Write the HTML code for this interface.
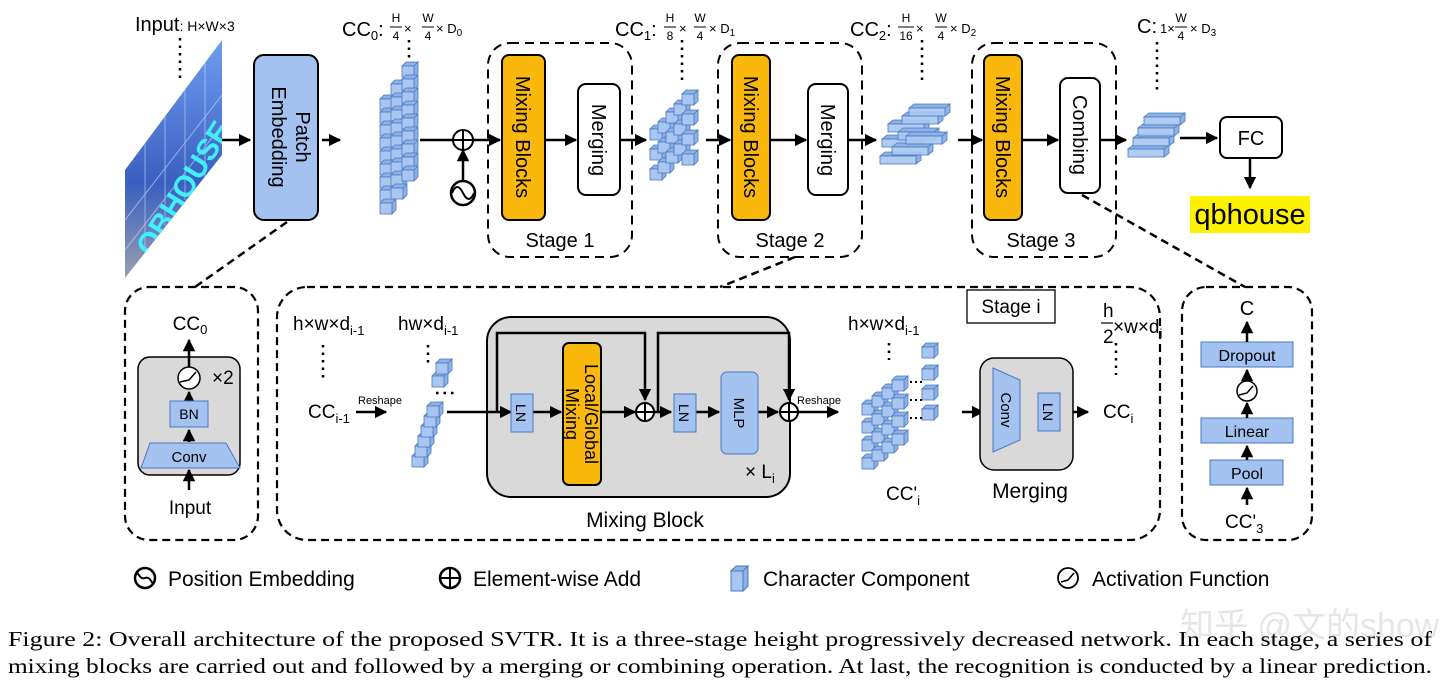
<!DOCTYPE html>
<html><head><meta charset="utf-8"><style>
html,body{margin:0;padding:0;background:#fff}
svg{display:block}
text{font-family:"Liberation Sans",sans-serif}
.s{font-family:"Liberation Serif",serif}
</style></head><body>
<svg width="1440" height="683" viewBox="0 0 1440 683" xmlns="http://www.w3.org/2000/svg">
<defs>
<marker id="a" viewBox="0 0 10 10" refX="9" refY="5" markerWidth="5" markerHeight="5" orient="auto"><path d="M0,0L10,5L0,10z" fill="#000"/></marker>
<g id="c"><path d="M0,4 l4,-4 h12 l-4,4z M12,4 l4,-4 v11 l-4,4z" fill="#8fb2e6" stroke="#4a78c2" stroke-width="0.8"/><rect x="0" y="4" width="12" height="11" fill="#a9c6f0" stroke="#4a78c2" stroke-width="0.8"/></g>
<g id="f"><path d="M0,4 l5,-4 h36 l-5,4z M36,4 l5,-4 v8 l-5,4z" fill="#8fb2e6" stroke="#4a78c2" stroke-width="0.8"/><rect x="0" y="4" width="36" height="8" fill="#a9c6f0" fill-opacity="0.9" stroke="#4a78c2" stroke-width="0.8"/></g>
<linearGradient id="g" x1="0" y1="0" x2="0" y2="1"><stop offset="0" stop-color="#6f9cf0"/><stop offset="0.6" stop-color="#3a5fc0"/><stop offset="1" stop-color="#9aa0b0"/></linearGradient>
<clipPath id="cp"><polygon points="125,170 222,40 222,155 125,278"/></clipPath>
</defs>
<g stroke="#000" stroke-width="2.5" fill="none">
<line x1="222" y1="140" x2="250" y2="140" marker-end="url(#a)"/>
<line x1="322" y1="140" x2="340" y2="140" marker-end="url(#a)"/>
<line x1="420" y1="140" x2="453" y2="140"/>
<line x1="473" y1="140" x2="500" y2="140" marker-end="url(#a)"/>
<line x1="463" y1="181" x2="463" y2="150" marker-end="url(#a)"/>
<line x1="545" y1="140" x2="576" y2="140" marker-end="url(#a)"/>
<line x1="620" y1="140" x2="646" y2="140" marker-end="url(#a)"/>
<line x1="706" y1="140" x2="730" y2="140" marker-end="url(#a)"/>
<line x1="770" y1="140" x2="806" y2="140" marker-end="url(#a)"/>
<line x1="848" y1="140" x2="876" y2="140" marker-end="url(#a)"/>
<line x1="958" y1="140" x2="982" y2="140" marker-end="url(#a)"/>
<line x1="1022" y1="140" x2="1058" y2="140" marker-end="url(#a)"/>
<line x1="1100" y1="140" x2="1126" y2="140" marker-end="url(#a)"/>
<line x1="1180" y1="138" x2="1217" y2="138" marker-end="url(#a)"/>
<line x1="1250" y1="158" x2="1250" y2="188" marker-end="url(#a)"/>
</g>
<polygon points="125,170 222,40 222,155 125,278" fill="url(#g)"/>
<g stroke="#cfe0ff" stroke-width="0.8" opacity="0.7"><line x1="145" y1="143" x2="145" y2="252"/><line x1="165" y1="116" x2="165" y2="226"/><line x1="185" y1="90" x2="185" y2="200"/><line x1="205" y1="63" x2="205" y2="177"/><line x1="125" y1="220" x2="222" y2="95"/><line x1="125" y1="250" x2="222" y2="125"/></g>
<g clip-path="url(#cp)"><text x="0" y="0" transform="translate(152,258) rotate(-58)" font-size="30" font-weight="bold" fill="#3ff0ff">QBHOUSE</text></g>
<g stroke="#000" stroke-width="2.5" stroke-dasharray="2.5,5" fill="none">
<line x1="180" y1="38" x2="180" y2="82"/><line x1="409" y1="40" x2="409" y2="70"/><line x1="682" y1="40" x2="682" y2="80"/><line x1="922" y1="40" x2="922" y2="80"/><line x1="1157" y1="42" x2="1157" y2="90"/>
<line x1="323" y1="345" x2="323" y2="380"/><line x1="428" y1="345" x2="428" y2="365"/><line x1="436" y1="393" x2="455" y2="393"/><line x1="889" y1="343" x2="889" y2="360"/><line x1="1116" y1="343" x2="1116" y2="375"/>
</g>
<text x="135" y="31" font-size="20">Input<tspan font-size="14">: H×W×3</tspan></text>
<text x="342" y="36" font-size="20">CC<tspan font-size="13" dy="4">0</tspan><tspan dy="-4">:</tspan></text>
<g font-size="12" text-anchor="middle"><text x="396" y="22">H</text><text x="396" y="40">4</text><text x="428" y="22">W</text><text x="428" y="40">4</text>
<text x="670" y="22">H</text><text x="670" y="40">8</text><text x="700" y="22">W</text><text x="700" y="40">4</text>
<text x="906" y="22">H</text><text x="906" y="40">16</text><text x="941" y="22">W</text><text x="941" y="40">4</text>
<text x="1181" y="22">W</text><text x="1181" y="40">4</text></g>
<g stroke="#000" stroke-width="1"><line x1="390" y1="27" x2="402" y2="27"/><line x1="422" y1="27" x2="434" y2="27"/><line x1="664" y1="27" x2="676" y2="27"/><line x1="694" y1="27" x2="706" y2="27"/><line x1="898" y1="27" x2="914" y2="27"/><line x1="935" y1="27" x2="947" y2="27"/><line x1="1175" y1="27" x2="1187" y2="27"/></g>
<g font-size="13"><text x="404" y="33">×</text><text x="436" y="33">× D<tspan font-size="10" dy="3">0</tspan></text>
<text x="679" y="33">×</text><text x="709" y="33">× D<tspan font-size="10" dy="3">1</tspan></text>
<text x="916" y="33">×</text><text x="950" y="33">× D<tspan font-size="10" dy="3">2</tspan></text>
<text x="1160" y="33">1×</text><text x="1190" y="33">× D<tspan font-size="10" dy="3">3</tspan></text></g>
<text x="615" y="36" font-size="20">CC<tspan font-size="13" dy="4">1</tspan><tspan dy="-4">:</tspan></text>
<text x="850" y="36" font-size="20">CC<tspan font-size="13" dy="4">2</tspan><tspan dy="-4">:</tspan></text>
<text x="1137" y="33" font-size="20">C:</text>
<rect x="254" y="55" width="64" height="165" rx="10" fill="#a4c2f0" stroke="#000" stroke-width="2"/>
<g font-size="20" text-anchor="middle"><text transform="translate(296,137) rotate(90)">Patch</text><text transform="translate(272,137) rotate(90)">Embedding</text></g>
<g><use href="#c" x="380" y="95"/><use href="#c" x="380" y="108"/><use href="#c" x="380" y="121"/><use href="#c" x="380" y="134"/><use href="#c" x="380" y="147"/><use href="#c" x="380" y="160"/><use href="#c" x="380" y="173"/><use href="#c" x="380" y="186"/><use href="#c" x="380" y="199"/>
<use href="#c" x="391" y="80"/><use href="#c" x="391" y="93"/><use href="#c" x="391" y="106"/><use href="#c" x="391" y="119"/><use href="#c" x="391" y="132"/><use href="#c" x="391" y="145"/><use href="#c" x="391" y="158"/><use href="#c" x="391" y="171"/><use href="#c" x="391" y="184"/>
<use href="#c" x="402" y="62"/><use href="#c" x="402" y="75"/><use href="#c" x="402" y="88"/><use href="#c" x="402" y="101"/><use href="#c" x="402" y="114"/><use href="#c" x="402" y="127"/><use href="#c" x="402" y="140"/><use href="#c" x="402" y="153"/><use href="#c" x="402" y="166"/></g>
<circle cx="463" cy="140" r="10" fill="#fff" stroke="#000" stroke-width="2"/><path d="M453,140h20M463,130v20" stroke="#000" stroke-width="2"/>
<circle cx="463" cy="193" r="12" fill="#fff" stroke="#000" stroke-width="2.5"/><path d="M452,193 q5,-12 11,0 q6,12 11,0" fill="none" stroke="#000" stroke-width="2"/>
<g fill="none" stroke="#000" stroke-width="2" stroke-dasharray="9,6"><rect x="488" y="43" width="144" height="214" rx="22"/><rect x="718" y="43" width="144" height="214" rx="22"/><rect x="972" y="43" width="144" height="214" rx="22"/></g>
<g fill="#fbb80c" stroke="#000" stroke-width="2"><rect x="502" y="55" width="43" height="165" rx="7"/><rect x="732" y="55" width="38" height="165" rx="7"/><rect x="984" y="55" width="38" height="165" rx="7"/></g>
<g fill="#fff" stroke="#000" stroke-width="2"><rect x="578" y="84" width="42" height="111" rx="8"/><rect x="808" y="84" width="40" height="111" rx="8"/><rect x="1060" y="78" width="40" height="115" rx="8"/><rect x="1220" y="117" width="62" height="41" rx="7"/></g>
<g font-size="20" text-anchor="middle">
<text transform="translate(516,137) rotate(90)">Mixing  Blocks</text><text transform="translate(744,137) rotate(90)">Mixing  Blocks</text><text transform="translate(996,137) rotate(90)">Mixing  Blocks</text>
<text transform="translate(592,140) rotate(90)">Merging</text><text transform="translate(821,140) rotate(90)">Merging</text><text transform="translate(1073,135) rotate(90)">Combing</text>
<text x="560" y="247">Stage 1</text><text x="790" y="247">Stage 2</text><text x="1041" y="247">Stage 3</text><text x="1251" y="145">FC</text></g>
<g><use href="#c" x="650" y="125"/><use href="#c" x="650" y="145"/><use href="#c" x="650" y="165"/><use href="#c" x="658" y="118"/><use href="#c" x="658" y="138"/><use href="#c" x="658" y="158"/>
<use href="#c" x="666" y="108"/><use href="#c" x="666" y="128"/><use href="#c" x="666" y="148"/><use href="#c" x="674" y="100"/><use href="#c" x="674" y="120"/><use href="#c" x="674" y="140"/>
<use href="#c" x="682" y="90"/><use href="#c" x="682" y="110"/><use href="#c" x="682" y="130"/><use href="#c" x="682" y="150"/></g>
<g><use href="#f" x="880" y="152"/><use href="#f" x="882" y="135"/><use href="#f" x="888" y="120"/><use href="#f" x="892" y="143"/><use href="#f" x="898" y="128"/><use href="#f" x="902" y="112"/><use href="#f" x="906" y="132"/><use href="#f" x="909" y="104"/></g>
<g><use href="#f" x="1128" y="145"/><use href="#f" x="1133" y="134"/><use href="#f" x="1138" y="124"/><use href="#f" x="1144" y="113"/></g>
<rect x="1190" y="196" width="120" height="37" fill="#fff200"/>
<text x="1250" y="224" font-size="29" text-anchor="middle">qbhouse</text>
<g stroke="#000" stroke-width="2.5" stroke-dasharray="8,5" fill="none"><line x1="287" y1="222" x2="195" y2="287"/><line x1="795" y1="257" x2="720" y2="287"/><line x1="1082" y1="195" x2="1245" y2="287"/></g>
<g fill="none" stroke="#000" stroke-width="2.2" stroke-dasharray="8,5"><rect x="125" y="287" width="133" height="253" rx="24"/><rect x="277" y="287" width="883" height="253" rx="30"/><rect x="1182" y="287" width="130" height="253" rx="24"/></g>
<rect x="138" y="357" width="102" height="118" rx="12" fill="#d9d9d9" stroke="#000" stroke-width="1.5"/>
<text x="190" y="330" font-size="19" text-anchor="middle">CC<tspan font-size="13" dy="4">0</tspan></text>
<text x="190" y="514" font-size="19" text-anchor="middle">Input</text>
<text x="212" y="384" font-size="19">×2</text>
<g stroke="#000" stroke-width="2.5" fill="none"><line x1="189" y1="490" x2="189" y2="470" marker-end="url(#a)"/><line x1="189" y1="442" x2="189" y2="430" marker-end="url(#a)"/><line x1="189" y1="400" x2="189" y2="392" marker-end="url(#a)"/><line x1="189" y1="367" x2="189" y2="340" marker-end="url(#a)"/></g>
<polygon points="150,443 226,443 240,468 141,468" fill="#a4c2f0" stroke="#4a78c2"/>
<text x="189" y="462" font-size="15" text-anchor="middle">Conv</text>
<rect x="170" y="401" width="38" height="26" fill="#a4c2f0" stroke="#4a78c2"/>
<text x="189" y="419" font-size="14" text-anchor="middle">BN</text>
<circle cx="189" cy="378" r="11" fill="#fff" stroke="#000" stroke-width="1.5"/><path d="M180,382 l9,-2 l7,-8" stroke="#000" stroke-width="1.5" fill="none"/>
<g font-size="19"><text x="293" y="330">h×w×d<tspan font-size="13" dy="5">i-1</tspan></text><text x="398" y="330">hw×d<tspan font-size="13" dy="5">i-1</tspan></text><text x="848" y="330">h×w×d<tspan font-size="13" dy="5">i-1</tspan></text>
<text x="308" y="418">CC<tspan font-size="13" dy="5">i-1</tspan></text><text x="1103" y="418">CC<tspan font-size="13" dy="5">i</tspan></text><text x="886" y="500">CC'<tspan font-size="13" dy="5">i</tspan></text>
<text x="1103" y="317">h</text><text x="1103" y="343">2</text><text x="1113" y="333">×w×d<tspan font-size="13" dy="5">i</tspan></text></g>
<line x1="1101" y1="323" x2="1113" y2="323" stroke="#000" stroke-width="1.2"/>
<text x="358" y="404" font-size="11">Reshape</text><text x="797" y="404" font-size="11">Reshape</text>
<rect x="967" y="290" width="88" height="33" fill="#fff" stroke="#000" stroke-width="1.3"/>
<text x="1011" y="313" font-size="19" text-anchor="middle">Stage i</text>
<rect x="487" y="317" width="303" height="180" rx="24" fill="#d9d9d9" stroke="#000" stroke-width="2"/>
<text x="645" y="527" font-size="21" text-anchor="middle">Mixing Block</text>
<text x="745" y="478" font-size="19">× L<tspan font-size="13" dy="5">i</tspan></text>
<g stroke="#000" stroke-width="2.5" fill="none">
<line x1="356" y1="412" x2="386" y2="412" marker-end="url(#a)"/>
<line x1="447" y1="412" x2="511" y2="412" marker-end="url(#a)"/>
<line x1="533" y1="412" x2="561" y2="412" marker-end="url(#a)"/>
<line x1="600" y1="412" x2="635" y2="412" marker-end="url(#a)"/>
<line x1="653" y1="412" x2="671" y2="412" marker-end="url(#a)"/>
<line x1="696" y1="412" x2="719" y2="412" marker-end="url(#a)"/>
<line x1="758" y1="412" x2="778" y2="412" marker-end="url(#a)"/>
<line x1="797" y1="412" x2="838" y2="412" marker-end="url(#a)"/>
<polyline points="497,412 497,333 645,333 645,400" marker-end="url(#a)"/>
<polyline points="658,412 658,333 789,333 789,400" marker-end="url(#a)"/>
<line x1="962" y1="412" x2="983" y2="412" marker-end="url(#a)"/>
<line x1="1020" y1="412" x2="1038" y2="412" marker-end="url(#a)"/>
<line x1="1060" y1="412" x2="1088" y2="412" marker-end="url(#a)"/>
</g>
<circle cx="645" cy="412" r="9" fill="#fff" stroke="#000" stroke-width="2"/><path d="M636,412h18M645,403v18" stroke="#000" stroke-width="2"/>
<circle cx="789" cy="412" r="9" fill="#fff" stroke="#000" stroke-width="2"/><path d="M780,412h18M789,403v18" stroke="#000" stroke-width="2"/>
<rect x="511" y="394" width="22" height="38" fill="#a4c2f0" stroke="#4a78c2"/><text transform="translate(516,413) rotate(90)" font-size="14" text-anchor="middle">LN</text>
<rect x="674" y="394" width="22" height="38" fill="#a4c2f0" stroke="#4a78c2"/><text transform="translate(679,413) rotate(90)" font-size="14" text-anchor="middle">LN</text>
<rect x="563" y="343" width="38" height="142" rx="6" fill="#fbb80c" stroke="#000" stroke-width="2"/>
<text transform="translate(585,414) rotate(90)" font-size="18" text-anchor="middle">Local/Global</text><text transform="translate(566,414) rotate(90)" font-size="18" text-anchor="middle">Mixing</text>
<rect x="721" y="372" width="37" height="82" rx="6" fill="#a4c2f0" stroke="#4a78c2"/><text transform="translate(734,413) rotate(90)" font-size="15" text-anchor="middle">MLP</text>
<g><use href="#c" x="412" y="452"/><use href="#c" x="415" y="442"/><use href="#c" x="418" y="432"/><use href="#c" x="421" y="422"/><use href="#c" x="424" y="412"/><use href="#c" x="427" y="402"/><use href="#c" x="432" y="372"/><use href="#c" x="436" y="359"/></g>
<g><use href="#c" x="862" y="400"/><use href="#c" x="862" y="418"/><use href="#c" x="862" y="436"/><use href="#c" x="862" y="454"/><use href="#c" x="872" y="392"/><use href="#c" x="872" y="410"/><use href="#c" x="872" y="428"/><use href="#c" x="872" y="446"/>
<use href="#c" x="882" y="384"/><use href="#c" x="882" y="402"/><use href="#c" x="882" y="420"/><use href="#c" x="882" y="438"/><use href="#c" x="892" y="376"/><use href="#c" x="892" y="394"/><use href="#c" x="892" y="412"/><use href="#c" x="892" y="430"/>
<use href="#c" x="922" y="343"/><use href="#c" x="922" y="365"/><use href="#c" x="922" y="385"/><use href="#c" x="922" y="405"/></g>
<g stroke="#000" stroke-width="2" stroke-dasharray="2,3"><line x1="910" y1="382" x2="922" y2="382"/><line x1="910" y1="400" x2="922" y2="400"/><line x1="910" y1="418" x2="922" y2="418"/></g>
<rect x="980" y="358" width="93" height="112" rx="14" fill="#d9d9d9" stroke="#000" stroke-width="1.5"/>
<polygon points="993,368 1020,380 1020,440 993,452" fill="#a4c2f0" stroke="#4a78c2"/>
<text transform="translate(1001,410) rotate(90)" font-size="15" text-anchor="middle">Conv</text>
<rect x="1038" y="393" width="22" height="38" fill="#a4c2f0" stroke="#4a78c2"/><text transform="translate(1043,412) rotate(90)" font-size="14" text-anchor="middle">LN</text>
<text x="1030" y="498" font-size="21" text-anchor="middle">Merging</text>
<text x="1247" y="315" font-size="20" text-anchor="middle">C</text>
<rect x="1201" y="342" width="92" height="25" fill="#a4c2f0" stroke="#4a78c2"/><text x="1247" y="361" font-size="16" text-anchor="middle">Dropout</text>
<rect x="1201" y="418" width="92" height="25" fill="#a4c2f0" stroke="#4a78c2"/><text x="1247" y="437" font-size="16" text-anchor="middle">Linear</text>
<rect x="1210" y="460" width="73" height="25" fill="#a4c2f0" stroke="#4a78c2"/><text x="1247" y="479" font-size="16" text-anchor="middle">Pool</text>
<circle cx="1247" cy="391" r="10" fill="#fff" stroke="#000" stroke-width="1.5"/><path d="M1239,395 l8,-2 l6,-7" stroke="#000" stroke-width="1.5" fill="none"/>
<g stroke="#000" stroke-width="2.5"><line x1="1247" y1="505" x2="1247" y2="488" marker-end="url(#a)"/><line x1="1247" y1="460" x2="1247" y2="446" marker-end="url(#a)"/><line x1="1247" y1="418" x2="1247" y2="403" marker-end="url(#a)"/><line x1="1247" y1="381" x2="1247" y2="370" marker-end="url(#a)"/><line x1="1247" y1="342" x2="1247" y2="322" marker-end="url(#a)"/></g>
<text x="1225" y="528" font-size="19">CC'<tspan font-size="13" dy="5">3</tspan></text>
<circle cx="145" cy="578" r="10" fill="none" stroke="#000" stroke-width="2.5"/><path d="M137,572 q4,8 8,6 q4,-2 8,6" stroke="#000" stroke-width="2" fill="none"/>
<text x="168" y="586" font-size="21">Position Embedding</text>
<circle cx="450" cy="578" r="10" fill="none" stroke="#000" stroke-width="2.5"/><path d="M440,578h20M450,568v20" stroke="#000" stroke-width="2"/>
<text x="473" y="586" font-size="21">Element-wise Add</text>
<g transform="translate(731,566)"><path d="M0,5 l5,-5 h12 l-5,5z M12,5 l5,-5 v20 l-5,5z" fill="#8fb2e6" stroke="#4a78c2"/><rect x="0" y="5" width="12" height="20" fill="#a9c6f0" stroke="#4a78c2"/></g>
<text x="763" y="586" font-size="21">Character Component</text>
<circle cx="1068" cy="578" r="10" fill="none" stroke="#000" stroke-width="1.8"/><path d="M1061,582 l7,-2 l6,-7" stroke="#000" stroke-width="1.6" fill="none"/>
<text x="1092" y="586" font-size="21">Activation Function</text>
<text x="1180" y="637" font-size="34" fill="#e0e0e0" opacity="0.8" style="font-family:'Liberation Sans','Noto Sans CJK SC',sans-serif">知乎 @文的show</text>
<text class="s" x="8" y="646" font-size="21" textLength="1424" lengthAdjust="spacingAndGlyphs">Figure 2: Overall architecture of the proposed SVTR. It is a three-stage height progressively decreased network. In each stage, a series of</text>
<text class="s" x="8" y="673" font-size="21" textLength="1424" lengthAdjust="spacingAndGlyphs">mixing blocks are carried out and followed by a merging or combining operation. At last, the recognition is conducted by a linear prediction.</text>
</svg>
</body></html>
